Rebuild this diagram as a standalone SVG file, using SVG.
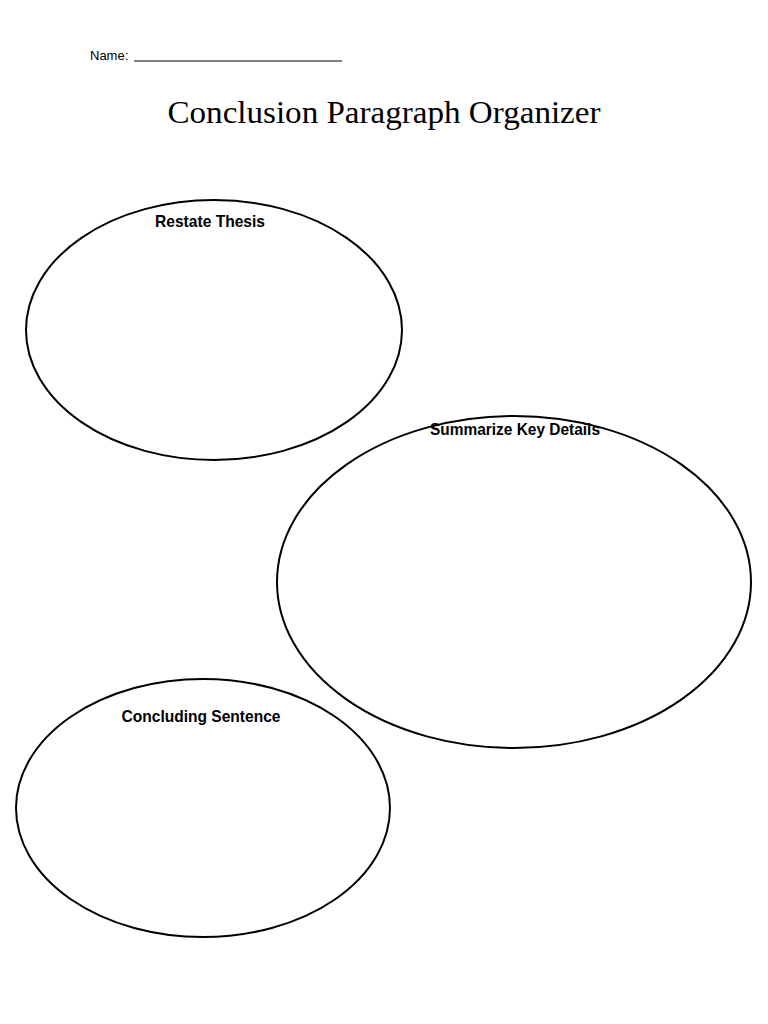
<svg xmlns="http://www.w3.org/2000/svg" width="768" height="1024" viewBox="0 0 768 1024">
<style>
.o{fill:none;stroke:#000;stroke-width:2}
.l{font-family:"Liberation Sans",Arial,sans-serif;font-weight:bold;font-size:17px;text-anchor:middle}
</style>
<rect width="768" height="1024" fill="#fff"/>
<text x="90" y="60" font-family="Liberation Sans,Arial,sans-serif" font-size="13">Name:</text>
<line x1="134" y1="61" x2="342" y2="61" stroke="#000" stroke-width="1"/>
<text x="384" y="123" font-family="Liberation Serif,serif" font-size="31" text-anchor="middle" textLength="433" lengthAdjust="spacingAndGlyphs">Conclusion Paragraph Organizer</text>
<g id="restate"><ellipse class="o" cx="214" cy="330" rx="188" ry="130"/><text class="l" x="210" y="227" textLength="110" lengthAdjust="spacingAndGlyphs">Restate Thesis</text></g>
<g id="summarize"><ellipse class="o" cx="514" cy="582" rx="237" ry="166"/><text class="l" x="515" y="435" textLength="170" lengthAdjust="spacingAndGlyphs">Summarize Key Details</text></g>
<g id="concluding"><ellipse class="o" cx="203" cy="808" rx="187" ry="129"/><text class="l" x="201" y="722" textLength="159" lengthAdjust="spacingAndGlyphs">Concluding Sentence</text></g>
<g id="connectors"/>
</svg>
